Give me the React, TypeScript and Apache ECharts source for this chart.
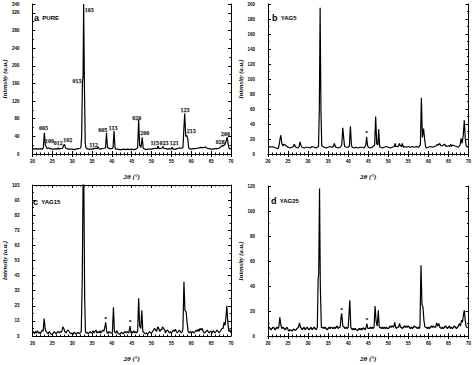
import React, { useEffect, useRef } from "react";
import * as echarts from "echarts";

// ---------- DATA ----------
const X_MIN = 20;
const X_MAX = 70;
const X_INTERVAL = 5;
// baseline sample spacing (degrees) per panel, baselines start at 20°
const baseSteps = [0.5, 0.5, 0.25, 0.25];

const panelLetters = ["a", "b", "c", "d"];
const panelNames = ["PURE", "YAG5", "YAG15", "YAG25"];
const yMins = [0, 0, 3, 0];
const yMaxs = [340, 200, 103, 120];
const yIntervals = [40, 20, 10, 20];

// PURE baseline (20.0 .. 70.0, step 0.5)
const pureBase = [
  12, 11, 12, 11, 12, 11, 13, 12, 14, 12,
  11, 11, 12, 11, 12, 12, 14, 13, 11, 11,
  11, 10, 11, 12, 13, 16, 14, 12, 11, 11,
  11, 12, 13, 12, 11, 12, 13, 12, 11, 12,
  12, 13, 11, 11, 10, 10, 11, 10, 11, 10,
  11, 10, 11, 12, 14, 12, 11, 10, 11, 11,
  11, 12, 13, 14, 13, 14, 13, 12, 11, 12,
  13, 12, 11, 12, 14, 13, 12, 11, 12, 12,
  11, 12, 12, 13, 14, 15, 14, 16, 13, 12,
  11, 11, 12, 12, 13, 14, 16, 18, 20, 16,
  12,
];
const purePeaks = [
  [[22.75, 14], [23.0, 48], [23.25, 20], [23.5, 16], [23.75, 12]],
  [[26.2, 11], [26.45, 14], [26.7, 11]],
  [[27.6, 13], [27.9, 20], [28.1, 22], [28.35, 14]],
  [[32.2, 14], [32.4, 40], [32.6, 165], [32.75, 175], [32.9, 340], [33.1, 150], [33.3, 25], [33.5, 14]],
  [[36.3, 12], [36.55, 16], [36.8, 12]],
  [[38.4, 14], [38.65, 48], [38.9, 15]],
  [[40.3, 14], [40.55, 52], [40.8, 14]],
  [[46.5, 14], [46.75, 78], [47.0, 20], [47.35, 15], [47.65, 38], [47.9, 13]],
  [[51.4, 12], [51.65, 18], [51.9, 12]],
  [[52.6, 13], [52.85, 17], [53.1, 13]],
  [[54.9, 11], [55.15, 15], [55.4, 11]],
  [[57.9, 14], [58.15, 60], [58.35, 92], [58.6, 40], [58.85, 42], [59.1, 35], [59.35, 14]],
  [[67.4, 16], [67.7, 19], [68.0, 18], [68.5, 22], [68.8, 30], [69.05, 38], [69.3, 22], [69.55, 12]],
];

// YAG5 baseline (step 0.5)
const yag5Base = [
  10, 9, 10, 9, 8, 7, 9, 10, 13, 11,
  9, 8, 9, 10, 9, 8, 10, 9, 8, 9,
  9, 8, 10, 9, 8, 9, 10, 9, 9, 8,
  9, 10, 9, 10, 9, 8, 9, 10, 9, 9,
  9, 10, 9, 8, 9, 8, 9, 9, 8, 9,
  9, 8, 9, 10, 9, 8, 9, 8, 9, 10,
  9, 8, 9, 11, 10, 9, 10, 9, 10, 9,
  10, 9, 10, 9, 10, 9, 9, 10, 9, 8,
  9, 10, 9, 10, 9, 11, 12, 11, 13, 10,
  11, 10, 12, 11, 10, 9, 10, 12, 12, 10,
  9,
];
const yag5Peaks = [
  [[22.75, 11], [23.0, 20], [23.2, 25], [23.45, 14], [23.7, 11]],
  [[26.3, 10], [26.55, 13], [26.8, 10]],
  [[27.75, 10], [28.0, 16], [28.25, 11]],
  [[32.6, 10], [32.8, 60], [33.0, 195], [33.2, 60], [33.4, 11]],
  [[36.3, 10], [36.55, 14], [36.8, 10]],
  [[38.4, 12], [38.65, 35], [38.9, 20], [39.1, 10]],
  [[40.3, 11], [40.55, 37], [40.8, 12]],
  [[44.4, 12], [44.6, 23], [44.8, 12]],
  [[46.6, 12], [46.85, 50], [47.1, 14], [47.4, 12], [47.6, 33], [47.85, 10]],
  [[51.5, 10], [51.7, 14], [51.9, 10]],
  [[52.5, 10], [52.75, 14], [53.0, 11], [53.3, 10], [53.5, 14], [53.75, 9]],
  [[58.0, 12], [58.25, 75], [58.5, 22], [58.8, 34], [59.05, 20], [59.3, 10]],
  [[62.0, 11], [62.2, 13], [62.5, 12], [62.8, 14], [63.1, 11]],
  [[65.3, 10], [65.55, 13], [65.8, 10]],
  [[67.9, 12], [68.15, 21], [68.4, 14], [68.7, 25], [68.95, 45], [69.2, 20], [69.45, 10]],
];

// YAG15 baseline (20.0 .. 70.0, step 0.25)
const yag15Base = [
  5, 6, 4.5, 6, 5, 6.5, 5, 5.5, 4.5, 6, 7, 6, 5, 6.5, 7, 5, 4.5, 6, 5, 4,
  4, 5, 6, 5, 4.5, 5.5, 6, 5, 6, 5.5, 4.5, 6, 7, 6, 5, 6.5, 7, 6, 5, 4.5,
  5, 4, 5.5, 5, 4, 5, 5.5, 4.5, 5, 6, 5, 4.5, 5, 6, 5, 5.5, 4.5, 5, 6, 5,
  5.5, 6.5, 5, 6, 7, 5, 6, 5, 6.5, 5, 6, 7, 5.5, 5, 6, 5, 4.5, 6, 5.5, 5,
  5, 6, 5, 4, 5, 6.5, 5, 4.5, 4, 5, 5.5, 4.5, 5, 6, 5, 6, 5.5, 5, 4.5, 5,
  6, 5, 6.5, 5, 6, 5, 5.5, 6, 5, 6.5, 5, 6, 5.5, 5, 4.5, 5, 4, 5, 6, 5,
  5, 6, 7, 8, 7, 6, 7, 7.5, 6, 7, 8, 6.5, 7, 6, 5, 6.5, 7, 6, 5, 6,
  5, 6, 7, 6, 7.5, 6, 5, 6, 7, 6, 5, 6, 7, 6.5, 6, 5.5, 5, 6, 5, 6,
  5, 6, 5.5, 5, 6, 7, 6, 7.5, 6, 5, 6, 7, 6, 5, 5.5, 6, 7, 6, 5, 6,
  6, 5, 6.5, 6, 5, 6, 7, 6, 5, 6, 7, 8, 7, 9, 10, 9, 8, 10, 9, 7,
  5,
];
const yag15Peaks = [
  [[22.7, 6], [22.95, 14.5], [23.2, 8], [23.45, 6]],
  [[27.4, 6], [27.65, 9], [27.9, 8], [28.15, 6]],
  [[32.3, 6], [32.55, 40], [32.75, 104], [32.95, 104], [33.15, 30], [33.35, 6]],
  [[38.0, 6], [38.25, 9], [38.45, 12], [38.7, 6]],
  [[40.15, 6], [40.4, 22], [40.65, 6]],
  [[44.4, 5], [44.6, 9.5], [44.8, 5]],
  [[46.5, 6], [46.75, 28], [47.0, 10], [47.3, 8], [47.55, 20], [47.8, 6]],
  [[51.3, 6], [51.55, 9], [51.8, 8], [52.1, 6]],
  [[52.5, 7], [52.75, 9], [53.0, 8], [53.3, 7]],
  [[57.9, 8], [58.15, 39], [58.4, 20], [58.7, 19], [58.95, 12], [59.2, 6]],
  [[62.0, 6], [62.2, 8], [62.5, 7], [62.75, 8], [63.0, 6]],
  [[68.0, 8], [68.25, 12], [68.5, 10], [68.75, 16], [68.95, 23], [69.2, 12], [69.45, 6]],
];

// YAG25 baseline (20.0 .. 70.0, step 0.25)
const yag25Base = [
  6, 7, 6, 5, 6, 7, 6.5, 5, 6, 7, 6, 5, 7, 6, 5.5, 7, 6, 5, 6, 7,
  5, 4, 5, 4.5, 4, 5, 5.5, 4.5, 5, 6, 5, 6, 5, 6.5, 5, 6, 7, 5, 6, 7,
  6, 5, 6, 7, 5, 6, 7, 6, 5, 6, 7, 6, 5, 6, 6.5, 7, 6, 7, 6, 5,
  6, 7, 6, 7, 6.5, 6, 7, 6, 7, 8, 6, 7, 6, 7, 6, 7, 7, 6, 7, 6,
  7, 6, 7, 6, 5, 6, 5, 6, 5, 4.5, 5, 6, 5, 6, 5, 6.5, 6, 5, 6, 7,
  7, 6, 7, 6, 7, 6, 7.5, 6, 7, 6, 7, 6, 7, 6, 7, 6, 7, 6, 7, 6,
  6, 7, 8, 7, 8, 7, 8, 7, 6, 7, 8, 7, 8, 7, 6, 7, 8, 7, 8, 7,
  8, 7, 6, 7, 6, 7, 8, 7, 7, 6, 7, 6, 7, 6, 7, 6, 7, 6, 7, 6,
  7, 6, 7, 8, 7, 8, 7, 6, 7, 8, 7, 8, 7, 6, 7, 6, 7, 8, 7, 6,
  7, 8, 6, 7, 6, 7, 8, 7, 6, 7, 8, 10, 11, 12, 11, 10, 12, 10, 8, 7,
  7,
];
const yag25Peaks = [
  [[22.7, 7], [22.95, 15], [23.2, 9], [23.45, 6]],
  [[27.6, 7], [27.85, 10.5], [28.1, 7]],
  [[32.3, 7], [32.5, 45], [32.65, 50], [32.85, 118], [33.05, 40], [33.3, 7]],
  [[38.0, 7], [38.25, 16], [38.4, 18], [38.65, 8]],
  [[40.15, 7], [40.4, 28.5], [40.65, 7]],
  [[44.4, 6], [44.65, 10], [44.9, 6]],
  [[46.45, 7], [46.7, 24], [46.95, 12], [47.25, 8], [47.5, 20.5], [47.75, 7]],
  [[51.35, 7], [51.6, 11], [51.85, 7]],
  [[52.55, 7], [52.8, 10], [53.05, 7]],
  [[57.9, 8], [58.15, 56.5], [58.4, 25], [58.65, 23], [58.9, 12], [59.15, 7]],
  [[61.8, 7], [62.05, 10.5], [62.3, 8], [62.6, 10], [62.85, 7]],
  [[68.0, 8], [68.25, 12.5], [68.5, 11], [68.75, 17], [68.95, 20.5], [69.2, 12], [69.45, 7]],
];

// Miller-index labels of the PURE pattern: [2θ, intensity, text]
const pureLabels = [
  [22.8, 59, "003"],
  [24.3, 29, "100"],
  [26.5, 24, "012"],
  [28.9, 31, "102"],
  [31.2, 166, "013"],
  [34.3, 326, "103"],
  [35.4, 21, "112"],
  [37.7, 55, "005"],
  [40.3, 60, "113"],
  [46.3, 82, "020"],
  [48.3, 48, "200"],
  [50.8, 25, "115"],
  [53.1, 25, "023"],
  [55.7, 24, "121"],
  [58.4, 99, "123"],
  [60.0, 53, "213"],
  [67.3, 27, "026"],
  [68.6, 46, "206"],
];

// asterisk marks (secondary phase)
const starMarks = [
  [],
  [[44.6, 28]],
  [[38.45, 14.5], [44.6, 12]],
  [[38.35, 21], [44.65, 13]],
];

const bases = [pureBase, yag5Base, yag15Base, yag25Base];
const peaks = [purePeaks, yag5Peaks, yag15Peaks, yag25Peaks];

// ---------- helpers ----------
function buildLine(base: number[], step: number, groups: number[][][]) {
  const pts: number[][] = base
    .map((y, i) => [X_MIN + i * step, y])
    .filter(
      ([x]) =>
        !groups.some((g) => x >= g[0][0] - 0.1 && x <= g[g.length - 1][0] + 0.1)
    );
  groups.forEach((g) => g.forEach((p) => pts.push(p)));
  pts.sort((a, b) => a[0] - b[0]);
  return pts;
}

const grids = [
  { left: 30, top: 4, width: 201, height: 150 },
  { left: 268, top: 4, width: 202, height: 150 },
  { left: 30, top: 185, width: 201, height: 151 },
  { left: 268, top: 186, width: 202, height: 150 },
];

const SERIF = "'Liberation Serif', 'DejaVu Serif', serif";
const SANS = "'Liberation Sans', Arial, sans-serif";

export default function App() {
  const ref = useRef<HTMLDivElement>(null);
  useEffect(() => {
    if (!ref.current) return;
    const chart = echarts.init(ref.current, null, { renderer: "svg" });

    const tickLabel = {
      fontSize: 4.5,
      fontWeight: "bold" as const,
      color: "#000",
      fontFamily: SANS,
    };
    const lineStyle = { color: "#000", width: 1 };

    const xAxis: any[] = [];
    const yAxis: any[] = [];
    grids.forEach((_, i) => {
      xAxis.push({
        type: "value",
        gridIndex: i,
        min: X_MIN,
        max: X_MAX,
        interval: X_INTERVAL,
        position: "bottom",
        axisLine: { lineStyle },
        axisTick: { inside: true, length: 3, lineStyle },
        minorTick: { show: true, splitNumber: 5, length: 1.5, lineStyle },
        splitLine: { show: false },
        axisLabel: { ...tickLabel, margin: 5 },
        name: "2θ (°)",
        nameLocation: "middle",
        nameGap: 19,
        nameTextStyle: {
          fontFamily: SERIF,
          fontStyle: "italic",
          fontWeight: "bold",
          fontSize: 7,
          color: "#000",
        },
      });
      yAxis.push({
        type: "value",
        gridIndex: i,
        min: yMins[i],
        max: yMaxs[i],
        interval: yIntervals[i],
        position: "left",
        axisLine: { show: true, lineStyle },
        axisTick: { show: true, inside: true, length: 3, lineStyle },
        minorTick: { show: true, splitNumber: 2, length: 1.5, lineStyle },
        splitLine: { show: false },
        axisLabel: { ...tickLabel, margin: 13 },
        name: "Intensity (a.u.)",
        nameLocation: "middle",
        nameGap: 22,
        nameTextStyle: {
          fontFamily: SERIF,
          fontStyle: "italic",
          fontWeight: "bold",
          fontSize: 6.5,
          color: "#000",
        },
      });
    });
    grids.forEach((_, i) => {
      xAxis.push({
        type: "value",
        gridIndex: i,
        min: X_MIN,
        max: X_MAX,
        interval: X_INTERVAL,
        position: "top",
        axisLine: { lineStyle },
        axisTick: { inside: true, length: 3, lineStyle },
        minorTick: { show: true, splitNumber: 5, length: 1.5, lineStyle },
        splitLine: { show: false },
        axisLabel: { show: false },
      });
      yAxis.push({
        type: "value",
        gridIndex: i,
        min: yMins[i],
        max: yMaxs[i],
        interval: yIntervals[i],
        position: "right",
        axisLine: { show: true, lineStyle },
        axisTick: { show: true, inside: true, length: 3, lineStyle },
        minorTick: { show: true, splitNumber: 2, length: 1.5, lineStyle },
        splitLine: { show: false },
        axisLabel: { show: false },
      });
    });

    const textLabel = (fmt: any, size: number, family: string, weight: string) => ({
      show: true,
      position: "inside",
      formatter: fmt,
      fontSize: size,
      fontWeight: weight,
      color: "#000",
      textBorderColor: "#000",
      textBorderWidth: 0.25,
      fontFamily: family,
    });

    const series: any[] = [];
    grids.forEach((_, i) => {
      series.push({
        type: "line",
        xAxisIndex: i,
        yAxisIndex: i,
        data: buildLine(bases[i], baseSteps[i], peaks[i]),
        symbol: "none",
        color: "#000",
        lineStyle: { color: "#000", width: 1.2 },
        clip: true,
        silent: true,
      });
      if (starMarks[i].length) {
        series.push({
          type: "scatter",
          xAxisIndex: i,
          yAxisIndex: i,
          data: starMarks[i],
          symbol: "rect",
          symbolSize: 0.1,
          color: "#000",
          itemStyle: { color: "#000" },
          silent: true,
          label: textLabel("*", 6, SANS, "bold"),
        });
      }
    });
    series.push({
      type: "scatter",
      xAxisIndex: 0,
      yAxisIndex: 0,
      data: pureLabels,
      symbol: "rect",
      symbolSize: 0.1,
      color: "#000",
      itemStyle: { color: "#000" },
      silent: true,
      label: textLabel((p: any) => p.data[2], 6, SERIF, "bold"),
    });

    const letterPos = [
      [37, 17],
      [275, 17],
      [36, 201],
      [274, 200],
    ];
    const graphic = letterPos.map((pos, i) => ({
      type: "text",
      left: pos[0] - 3,
      top: pos[1] - 5,
      style: {
        text: `{l|${panelLetters[i]}} {n|${panelNames[i]}}`,
        rich: {
          l: { fontSize: 9, fontWeight: "bold", fontFamily: SANS, fill: "#000" },
          n: { fontSize: 6, fontWeight: "bold", fontFamily: SANS, fill: "#000" },
        },
        fill: "#000",
      },
    }));

    chart.setOption({
      animation: false,
      backgroundColor: "#fff",
      grid: grids.map((g) => ({ ...g, containLabel: false })),
      xAxis,
      yAxis,
      series,
      graphic,
    });
    return () => chart.dispose();
  }, []);
  return (
    <div
      ref={ref}
      style={{ position: "absolute", left: 0, top: 0, width: 474, height: 365 }}
    />
  );
}
